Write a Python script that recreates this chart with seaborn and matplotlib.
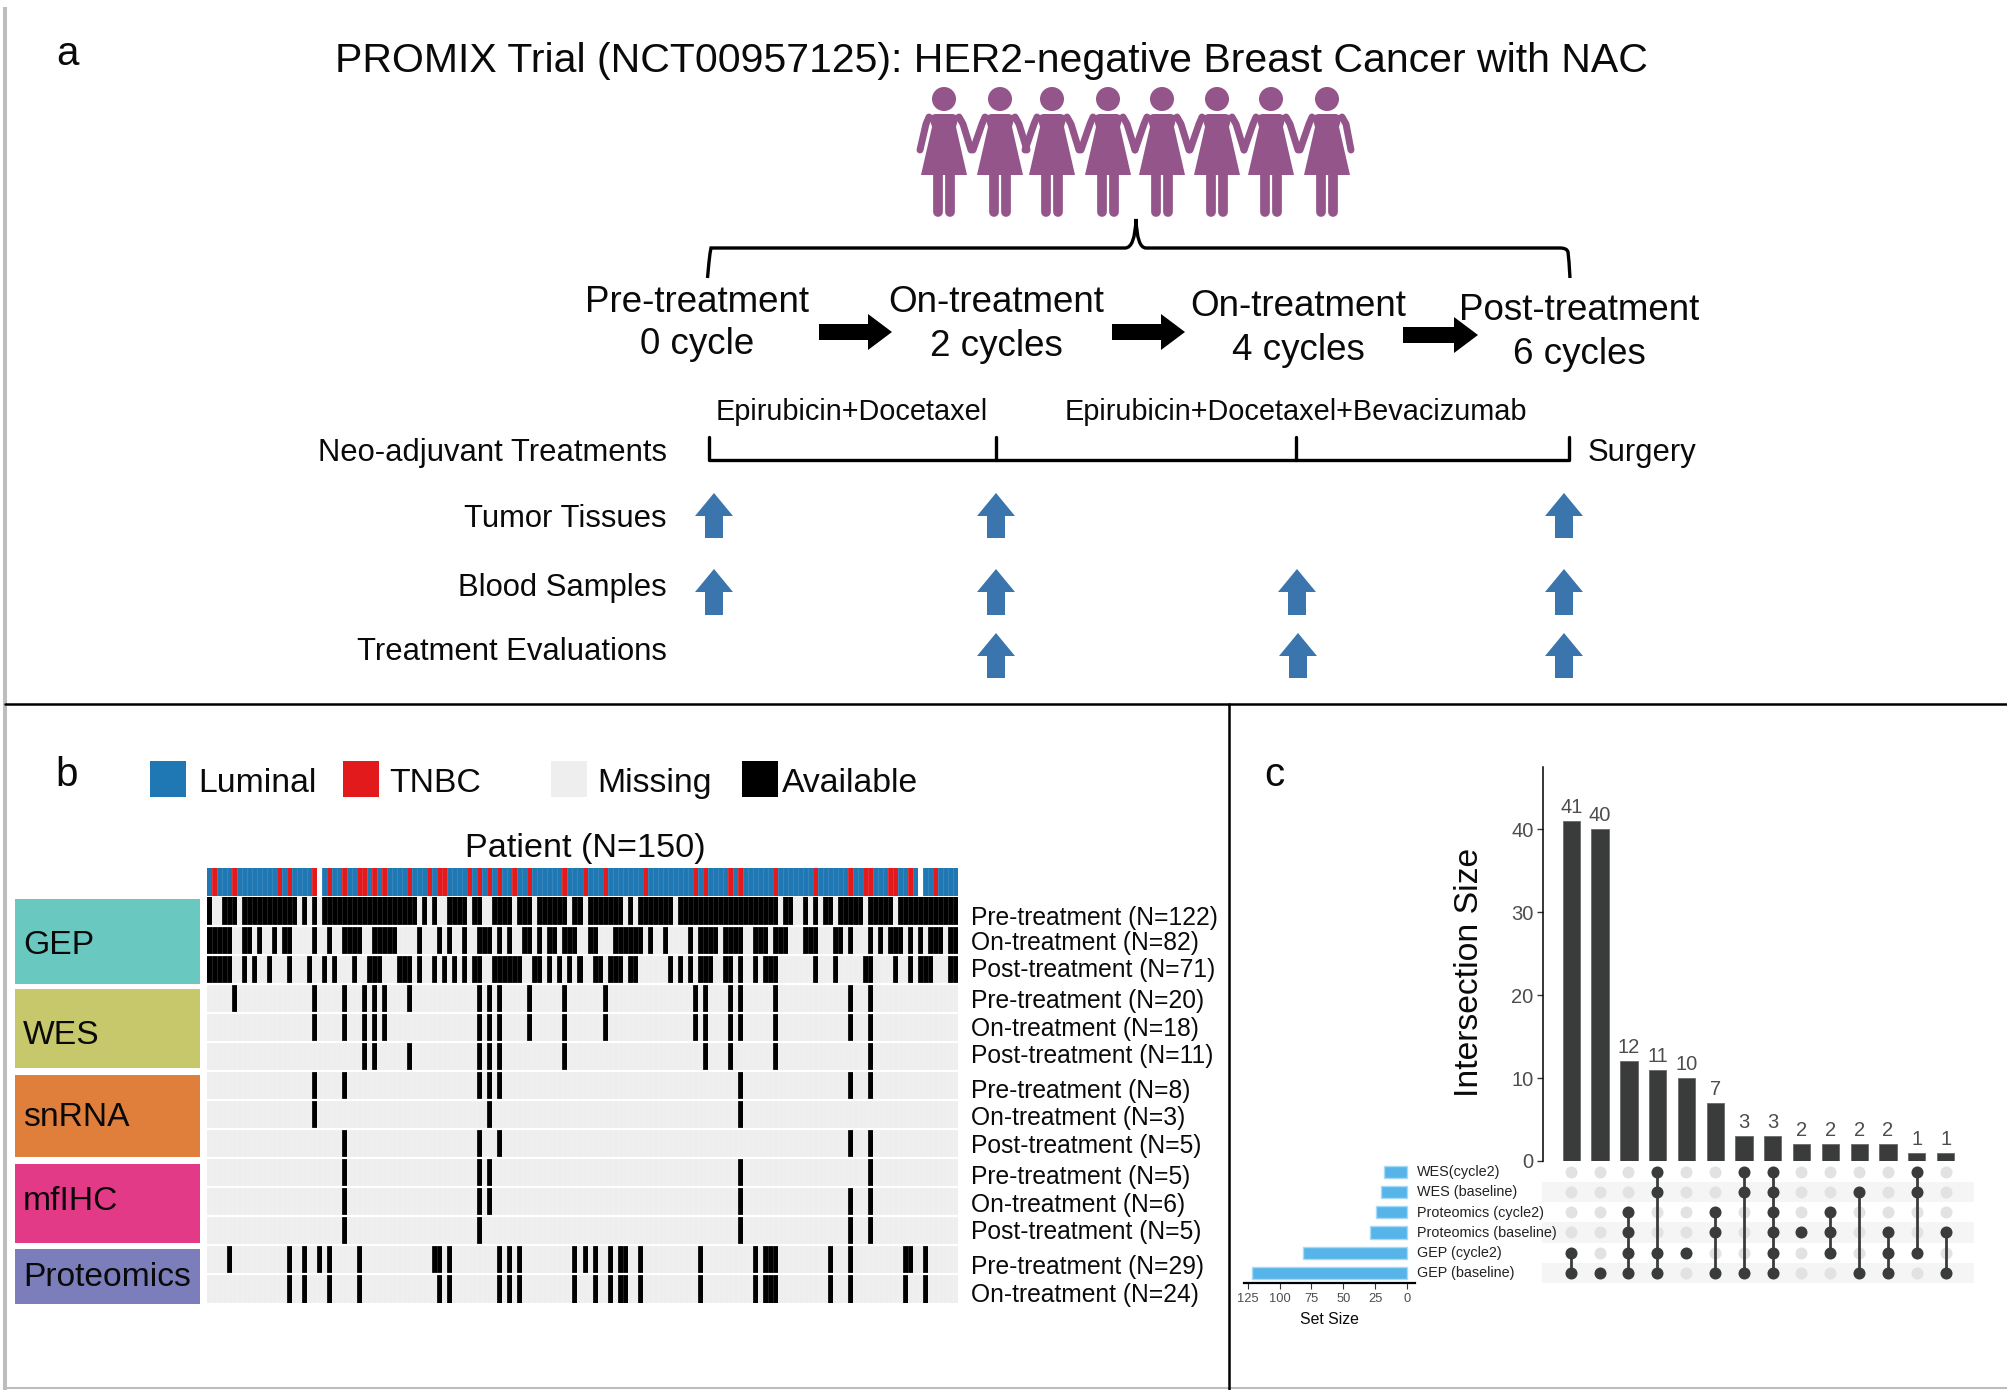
import numpy as np
import pandas as pd
import matplotlib
matplotlib.use("Agg")
import matplotlib.pyplot as plt
from matplotlib.colors import ListedColormap
from matplotlib.patches import Circle, FancyArrow, PathPatch, Polygon, Rectangle
from matplotlib.path import Path
import seaborn as sns

# --- data: panel b, patient columns (0-149) that are available per row ---
n_patients = 150
tnbc_cols = [1, 5, 14, 16, 21, 24, 27, 30, 31, 33, 35, 40, 44, 46, 47, 52, 54, 56, 58, 61, 64, 71, 75,
             79, 87, 97, 99, 104, 106, 113, 121, 128, 131, 132, 136, 137, 140, 145]
no_subtype_cols = [22, 142]

gep_pre = [0, 3, 4, 5, *range(7, 18), 19, 21, *range(23, 42), 43, 45, *range(48, 52), 53, 54, *range(57, 61),
           62, 63, 64, *range(66, 72), 73, 74, *range(76, 83), 84, *range(86, 93), *range(94, 114), 115, 116,
           119, 121, 123, 124, *range(126, 131), *range(132, 137), *range(138, 150)]
gep_on = [0, 1, 2, 3, 4, 7, 8, 10, 13, 15, 16, 21, 24, 27, 28, 29, 30, 33, 34, 35, 36, 37, 42, 46, 48, 51,
          54, 55, 56, 58, 60, 63, 64, 66, 68, 69, 71, 72, 73, 76, 77, 81, 82, 83, 84, 85, 86, 88, 91, 96,
          98, 99, 100, 101, 103, 104, 105, 106, 109, 110, 111, 113, 114, 115, 119, 120, 121, 125, 126, 128,
          132, 134, 136, 137, 138, 140, 142, 144, 145, 146, 148, 149]
gep_post = [0, 1, 2, 3, 4, 7, 9, 12, 16, 20, 23, 25, 29, 32, 33, 34, 38, 39, 40, 42, 45, 47, 49, 51, 53, 54,
            57, 58, 59, 60, 61, 62, 65, 66, 68, 70, 72, 74, 77, 78, 80, 81, 82, 84, 85, 92, 94, 96, 98, 99,
            100, 103, 104, 106, 109, 111, 112, 113, 121, 125, 131, 132, 137, 140, 142, 143, 144, 148, 149]
wes_pre = [5, 21, 27, 31, 33, 35, 40, 54, 56, 58, 64, 71, 79, 97, 99, 104, 106, 113, 128, 132]
wes_on = [21, 27, 31, 33, 35, 54, 56, 58, 64, 71, 79, 97, 99, 104, 106, 113, 128, 132]
wes_post = [31, 33, 40, 54, 56, 58, 71, 99, 104, 113, 132]
snrna_pre = [21, 27, 54, 56, 58, 106, 128, 132]
snrna_on = [21, 56, 106]
snrna_post = [27, 54, 58, 128, 132]
mfihc_pre = [27, 54, 56, 106, 132]
mfihc_on = [27, 54, 56, 106, 128, 132]
mfihc_post = [27, 54, 106, 128, 132]
prot_pre = [4, 16, 19, 22, 24, 30, 45, 46, 48, 58, 60, 62, 73, 75, 77, 80, 82, 83, 86, 98, 109, 111, 112, 113,
            124, 128, 139, 140, 143]
prot_on = [16, 19, 24, 30, 46, 48, 58, 60, 62, 73, 77, 80, 82, 83, 86, 98, 109, 111, 112, 113, 124, 128, 139, 143]

rows_available = [gep_pre, gep_on, gep_post, wes_pre, wes_on, wes_post, snrna_pre, snrna_on, snrna_post,
                  mfihc_pre, mfihc_on, mfihc_post, prot_pre, prot_on]
row_labels = ["Pre-treatment (N=122)", "On-treatment (N=82)", "Post-treatment (N=71)",
              "Pre-treatment (N=20)", "On-treatment (N=18)", "Post-treatment (N=11)",
              "Pre-treatment (N=8)", "On-treatment (N=3)", "Post-treatment (N=5)",
              "Pre-treatment (N=5)", "On-treatment (N=6)", "Post-treatment (N=5)",
              "Pre-treatment (N=29)", "On-treatment (N=24)"]

# --- data: panel c ---
set_names = ["WES(cycle2)", "WES (baseline)", "Proteomics (cycle2)", "Proteomics (baseline)",
             "GEP (cycle2)", "GEP (baseline)"]
set_sizes = [18, 20, 24, 29, 82, 122]
intersection_sizes = [41, 40, 12, 11, 10, 7, 3, 3, 2, 2, 2, 2, 1, 1]
intersection_sets = [[4, 5], [5], [2, 3, 4, 5], [0, 1, 4, 5], [4], [2, 3, 5], [0, 1, 5], [0, 1, 2, 3, 4, 5],
                     [3], [2, 3, 4], [1, 5], [3, 4, 5], [0, 1, 4], [3, 5]]

# --- colours ---
LUMINAL, TNBC, MISSING = "#1F78B4", "#E31A1C", "#EEEEEE"
DARK = "#3A3C3B"
SET_BLUE = "#56B4E9"

sns.set_style("white")
plt.rcParams["font.family"] = ["Liberation Sans", "DejaVu Sans"]

W, H = 2007, 1390
fig = plt.figure(figsize=(W / 100, H / 100), dpi=100)


def pane(x0, y0, x1, y1):
    # axes given in reference pixels
    return fig.add_axes([x0 / W, 1 - y1 / H, (x1 - x0) / W, (y1 - y0) / H])


bg = pane(0, 0, W, H)
bg.set_xlim(0, W)
bg.set_ylim(H, 0)
bg.axis("off")


def txt(x, y, s, size, ha="left", **kw):
    bg.text(x, y, s, fontsize=size, ha=ha, va="center", color=kw.pop("color", "#0A0A0A"), **kw)


# frame lines
bg.plot([5, 5], [7, H], color="#BDBDBD", lw=2.9, solid_capstyle="butt")
bg.plot([5, W], [1388, 1388], color="#BDBDBD", lw=1.5)
bg.plot([5, W], [704, 704], color="black", lw=1.8)
bg.plot([1229, 1229], [704, H], color="black", lw=1.8)

# ---------- panel a ----------
PURPLE = "#93558A"
people_x = [944, 1000, 1052, 1108, 1162, 1217, 1271, 1327]


def person(cx, reach_left, reach_right):
    bg.add_patch(Circle((cx, 99), 12, color=PURPLE, lw=0))
    body = [(-15, 116), (-9, 114), (9, 114), (15, 116), (12, 127), (23, 175), (-23, 175), (-12, 127)]
    bg.add_patch(Polygon([(cx + a, b) for a, b in body], color=PURPLE, lw=0))
    bg.plot([cx - 15, cx - 18, cx - reach_left], [117, 124, 150], color=PURPLE, lw=5, solid_capstyle="round")
    bg.plot([cx + 15, cx + 19, cx + reach_right], [117, 124, 150], color=PURPLE, lw=5, solid_capstyle="round")
    for off in (-6, 6):
        bg.plot([cx + off, cx + off], [175, 212], color=PURPLE, lw=7, solid_capstyle="round")


for i, cx in enumerate(people_x):
    person(cx, 24 if i == 0 else 27, 24 if i == len(people_x) - 1 else 27)

brace = Path([(707.5, 278), (709, 262), (710, 252), (711, 248), (718, 248), (1125, 248), (1135, 248), (1136, 219),
              (1137, 248), (1146, 248), (1560, 248), (1567, 248), (1568, 252), (1569, 262), (1570, 278)],
             [Path.MOVETO, Path.LINETO, Path.CURVE3, Path.CURVE3, Path.LINETO, Path.LINETO, Path.CURVE3, Path.CURVE3,
              Path.CURVE3, Path.CURVE3, Path.LINETO, Path.CURVE3, Path.CURVE3, Path.LINETO, Path.LINETO])
bg.add_patch(PathPatch(brace, fc="none", ec="black", lw=2.4))

txt(68, 54, "a", 29, ha="center")
txt(991, 61, "PROMIX Trial (NCT00957125): HER2-negative Breast Cancer with NAC", 29.5, ha="center")

for x, y1, y2, s1, s2 in [(697, 302, 345, "Pre-treatment", "0 cycle"),
                          (996, 303, 347, "On-treatment", "2 cycles"),
                          (1298, 306, 350, "On-treatment", "4 cycles"),
                          (1579, 310, 354, "Post-treatment", "6 cycles")]:
    txt(x, y1, s1, 26.5, ha="center")
    txt(x, y2, s2, 26.5, ha="center")

for x0, x1, y in [(819, 892, 332), (1112, 1185, 332), (1403, 1478, 335)]:
    bg.add_patch(FancyArrow(x0, y, x1 - x0, 0, width=16, head_width=36, head_length=24,
                            length_includes_head=True, color="black", lw=0))

txt(852, 412, "Epirubicin+Docetaxel", 20.8, ha="center")
txt(1296, 412, "Epirubicin+Docetaxel+Bevacizumab", 20.8, ha="center")
txt(667, 453.5, "Neo-adjuvant Treatments", 22.3, ha="right")
txt(1588, 453.5, "Surgery", 22.3)
bg.plot([709, 709, 709, 1569, 1569], [437, 460, 460, 460, 437], color="black", lw=2.4)
for x in [996, 1296]:
    bg.plot([x, x], [437, 460], color="black", lw=2.4)

for label, y in [("Tumor Tissues", 519), ("Blood Samples", 588), ("Treatment Evaluations", 652)]:
    txt(667, y, label, 22.3, ha="right")

for x, y0, y1 in [(714, 538, 493), (996, 538, 493), (1564, 538, 493),
                  (714, 615, 569), (996, 615, 569), (1297, 615, 569), (1564, 615, 569),
                  (996, 678, 633), (1298, 678, 633), (1564, 678, 633)]:
    bg.add_patch(FancyArrow(x, y0, 0, y1 - y0, width=18, head_width=38, head_length=23,
                            length_includes_head=True, color="#3A75AE", lw=0))

# ---------- panel b ----------
txt(67, 775, "b", 29, ha="center")
for x0, colour, x_text, s in [(150, LUMINAL, 198, "Luminal"), (343, TNBC, 389, "TNBC"),
                              (551, MISSING, 597, "Missing"), (742, "black", 782, "Available")]:
    bg.add_patch(Rectangle((x0, 761), 36, 36, color=colour, lw=0))
    txt(x_text, 783.5, s, 24.3)
txt(585, 848.5, "Patient (N=150)", 24.7, ha="center")

# subtype strip
subtype = np.zeros((1, n_patients), dtype=int)
subtype[0, tnbc_cols] = 1
subtype[0, no_subtype_cols] = 2
ax_sub = pane(207, 868, 958, 896)
sns.heatmap(subtype, ax=ax_sub, cmap=ListedColormap([LUMINAL, TNBC, "white"]), vmin=0, vmax=2,
            cbar=False, xticklabels=False, yticklabels=False)
ax_sub.vlines(np.arange(1, n_patients), 0, 1, color="white", lw=0.5, alpha=0.15)

# availability heatmap
avail = np.zeros((len(rows_available), n_patients), dtype=int)
for i, cols in enumerate(rows_available):
    avail[i, cols] = 1
avail_df = pd.DataFrame(avail, index=row_labels)
ax_map = pane(207, 897.3, 958, 1302.7)
sns.heatmap(avail_df, ax=ax_map, cmap=ListedColormap([MISSING, "black"]), vmin=0, vmax=1,
            cbar=False, xticklabels=False, yticklabels=False)
ax_map.set_ylabel("")
ax_map.vlines(np.arange(1, n_patients), 0, len(row_labels), color="white", lw=0.5, alpha=0.18)
ax_map.hlines(np.arange(1, len(row_labels)), 0, n_patients, color="white", lw=1.6)

for y, s in zip([918, 943, 970, 1001, 1029, 1056, 1091, 1118, 1146, 1177, 1205, 1232, 1267, 1295], row_labels):
    txt(971, y, s, 17.7)

for y0, y1, colour, s, y_text in [(899, 984.3, "#69C8C0", "GEP", 945), (988.7, 1067.7, "#C7C76B", "WES", 1035),
                                  (1074.7, 1157, "#E07F3B", "snRNA", 1118), (1164.3, 1243.3, "#E23A87", "mfIHC", 1202),
                                  (1249.3, 1303.7, "#7B7EBB", "Proteomics", 1277)]:
    bg.add_patch(Rectangle((15, y0), 185, y1 - y0, color=colour, lw=0))
    txt(23, y_text, s, 24.2)

# ---------- panel c ----------
txt(1274, 775, "c", 29, ha="center")
n_inter = len(intersection_sizes)

ax_bar = pane(1542.5, 767, 1974.4, 1161)
sns.barplot(x=list(range(n_inter)), y=intersection_sizes, ax=ax_bar, color=DARK, saturation=1, width=0.6,
            edgecolor="#6A6A6A", linewidth=0.6)
ax_bar.set_xlim(-1, n_inter)
ax_bar.set_ylim(0, 47.5)
ax_bar.set_xticks([])
ax_bar.set_yticks([0, 10, 20, 30, 40])
ax_bar.tick_params(axis="y", left=True, length=4.3, width=1, color="#333333", labelsize=14.5,
                   labelcolor="#4D4D4D", pad=2)
ax_bar.set_xlabel("")
ax_bar.set_ylabel("")
sns.despine(ax=ax_bar, bottom=True)
ax_bar.spines["left"].set_linewidth(1.1)
ax_bar.spines["left"].set_color("black")
ax_bar.patch.set_alpha(0)
ax_bar.bar_label(ax_bar.containers[0], labels=[str(v) for v in intersection_sizes], fontsize=14.5,
                 color="#4D4D4D", padding=3)
txt(1470, 972, "Intersection Size", 24.3, ha="center", rotation=90)

# dot matrix
ax_dot = pane(1542, 1161.6, 1974.4, 1283.1)
ax_dot.set_xlim(-1, n_inter)
ax_dot.set_ylim(5.5, -0.5)
ax_dot.axis("off")
for r in [1, 3, 5]:
    ax_dot.axhspan(r - 0.5, r + 0.5, color="#F5F5F5", lw=0, zorder=0)
grid = pd.DataFrame([(c, r, r in intersection_sets[c]) for c in range(n_inter) for r in range(len(set_names))],
                    columns=["col", "row", "member"])
sns.scatterplot(data=grid[~grid.member], x="col", y="row", ax=ax_dot, color="#E2E2E2", s=75, linewidth=0,
                legend=False, zorder=1)
for c, members in enumerate(intersection_sets):
    if len(members) > 1:
        ax_dot.plot([c, c], [min(members), max(members)], color=DARK, lw=2, zorder=2)
sns.scatterplot(data=grid[grid.member], x="col", y="row", ax=ax_dot, color=DARK, s=75, linewidth=0,
                legend=False, zorder=3)
ax_dot.set_xlim(-1, n_inter)
ax_dot.set_ylim(5.5, -0.5)

# set size bars
ax_set = pane(1244, 1161.6, 1414.6, 1283.1)
sns.barplot(x=set_sizes, y=set_names, ax=ax_set, color=SET_BLUE, saturation=1, width=0.6, orient="h",
            edgecolor="#A8DAF5", linewidth=1)
ax_set.set_xlim(128, -6.1)
ax_set.set_xticks([125, 100, 75, 50, 25, 0])
ax_set.set_yticks([])
ax_set.tick_params(axis="x", length=4, width=0.8, color="#333333", labelsize=9.3, labelcolor="#4D4D4D", pad=3,
                   bottom=True)
ax_set.set_xlabel("")
ax_set.set_ylabel("")
sns.despine(ax=ax_set, left=True)
ax_set.spines["bottom"].set_linewidth(1.6)
ax_set.spines["bottom"].set_color("black")
ax_set.patch.set_alpha(0)
txt(1329, 1320, "Set Size", 11.4, ha="center")

# set names sit above the stripes, the longest one runs into them
for r, s in enumerate(set_names):
    fig.text(1417 / W, 1 - (1172 + 20.25 * r) / H, s, fontsize=10.4, ha="left", va="center", color="#222222")

fig.savefig("out.png", dpi=100)
